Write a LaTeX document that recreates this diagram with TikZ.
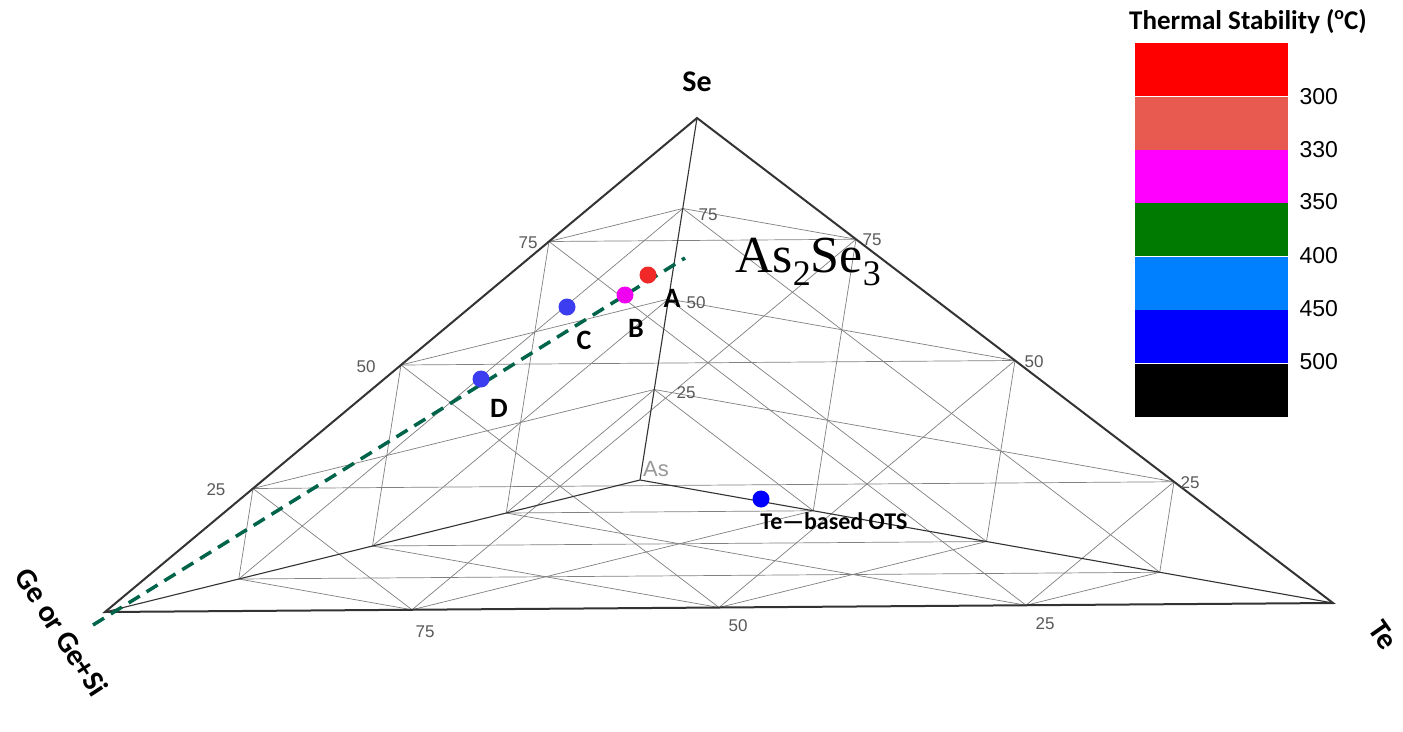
\documentclass[tikz,border=0pt]{standalone}
\usepackage{fontspec}
\setmainfont{Liberation Sans}
\newfontfamily\calfnt{Carlito}
\newfontfamily\serifa{Liberation Serif}
\begin{document}
\begin{tikzpicture}[x=1pt,y=-1pt,
  edge/.style={draw=black!80,line width=2pt},
  inner/.style={draw=black!80,line width=1.1pt},
  grid/.style={draw=black!50,line width=0.7pt},
  tick/.style={font=\fontsize{17}{17}\selectfont,text=black!65},
  dot/.style={circle,minimum size=17pt,inner sep=0pt},
  lab/.style={font=\calfnt\bfseries\fontsize{28}{28}\selectfont},
  leg/.style={minimum width=153pt,minimum height=53pt,inner sep=0pt,anchor=north west},
  legnum/.style={font=\fontsize{23}{23}\selectfont,anchor=west}]
\useasboundingbox (0,0) rectangle (1403,731);
\fill[white] (0,0) rectangle (1403,731);
\coordinate (S) at (697,118);
\coordinate (G) at (105,612);
\coordinate (T) at (1333,603);
\coordinate (A) at (640,480);
% face grids
\foreach \P/\Q/\R in {S/G/T,S/G/A,S/T/A,G/T/A}{
  \foreach \f in {0.25,0.5,0.75}{
    \pgfmathsetmacro{\g}{1-\f}
    \draw[grid] (barycentric cs:\P=\f,\Q=\g) -- (barycentric cs:\P=\f,\R=\g);
    \draw[grid] (barycentric cs:\Q=\f,\P=\g) -- (barycentric cs:\Q=\f,\R=\g);
    \draw[grid] (barycentric cs:\R=\f,\P=\g) -- (barycentric cs:\R=\f,\Q=\g);
  }}
\draw[inner] (S) -- (A) (G) -- (A) -- (T);
\draw[edge] (G) -- (S) -- (T) -- cycle;
% tick labels
\node[tick] (t1) at (528,243) {75};
\node[tick] (t2) at (366,367) {50};
\node[tick] (t3) at (216,490) {25};
\node[tick] (t4) at (425,632) {75};
\node[tick] (t5) at (738,626) {50};
\node[tick] (t6) at (1045,624) {25};
\node[tick] (t7) at (872,240) {75};
\node[tick] (t8) at (1034,362) {50};
\node[tick] (t9) at (1190,483) {25};
\node[tick] (t10) at (708,215) {75};
\node[tick] (t11) at (696,303) {50};
\node[tick] (t12) at (686,393) {25};
\node[tick,font=\fontsize{22}{22}\selectfont,text=black!40] (asl) at (656,469) {As};
% vertex labels
\node[lab,font=\calfnt\bfseries\fontsize{30}{30}\selectfont] (se) at (697,82) {Se};
\node[lab,font=\calfnt\bfseries\fontsize{30}{30}\selectfont,rotate=-57] (ge) at (62,632) {Ge or Ge+Si};
\node[lab,font=\calfnt\bfseries\fontsize{30}{30}\selectfont,rotate=-55] (te) at (1383,635) {Te};
% dashed line
\coordinate (d1) at (93,625);
\coordinate (d2) at (685,258);
\draw[draw={rgb,255:red,0;green,100;blue,75},line width=3.5pt,dash pattern=on 13pt off 8pt] (d1) -- (d2);
% points
\node[dot,fill={rgb,255:red,240;green,40;blue,40}] (pa) at (648,275) {};
\node[dot,fill={rgb,255:red,240;green,0;blue,240}] (pb) at (625,295) {};
\node[dot,fill={rgb,255:red,60;green,60;blue,240}] (pc) at (567,307) {};
\node[dot,fill={rgb,255:red,60;green,60;blue,240}] (pd) at (481,379) {};
\node[dot,fill={rgb,255:red,0;green,0;blue,255}] (pe) at (761,499) {};
\node[lab] (la) at (672,298) {A};
\node[lab] (lb) at (636,328) {B};
\node[lab] (lc) at (584,340) {C};
\node[lab] (ld) at (499,408) {D};
\node[lab,font=\calfnt\bfseries\fontsize{24}{24}\selectfont] (lo) at (834,521) {Te\textemdash based OTS};
\node[font=\serifa\fontsize{52}{52}\selectfont] (as2se3) at (808,262) {As\raisebox{-0.25em}{\fontsize{36}{36}\selectfont 2}Se\raisebox{-0.25em}{\fontsize{36}{36}\selectfont 3}};
% legend
\node[font=\calfnt\bfseries\fontsize{27}{27}\selectfont] (ttl) at (1248,22) {Thermal Stability (\raisebox{0.4em}{\fontsize{18}{18}\selectfont o}C)};
\node[leg,fill=red] (l1) at (1135,43) {};
\node[leg,fill={rgb,255:red,232;green,90;blue,80}] (l2) at (l1.south west) {};
\node[leg,fill={rgb,255:red,255;green,0;blue,255}] (l3) at (l2.south west) {};
\node[leg,fill={rgb,255:red,0;green,122;blue,0}] (l4) at (l3.south west) {};
\node[leg,fill={rgb,255:red,0;green,128;blue,255}] (l5) at (l4.south west) {};
\node[leg,fill={rgb,255:red,0;green,0;blue,255}] (l6) at (l5.south west) {};
\node[leg,fill=black] (l7) at (l6.south west) {};
\node[legnum] (n1) at (1296,97) {300};
\node[legnum] (n2) at (1296,150) {330};
\node[legnum] (n3) at (1296,202) {350};
\node[legnum] (n4) at (1296,256) {400};
\node[legnum] (n5) at (1296,309) {450};
\node[legnum] (n6) at (1296,362) {500};
\end{tikzpicture}
\end{document}
